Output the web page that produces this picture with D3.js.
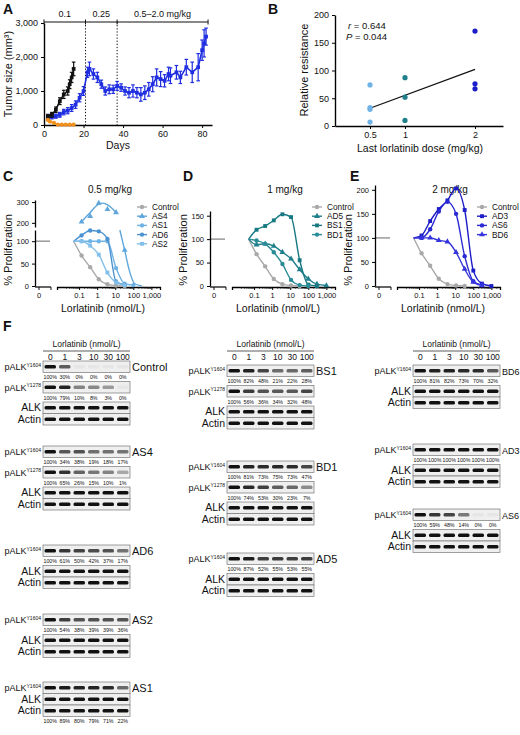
<!DOCTYPE html>
<html><head><meta charset="utf-8">
<script src="https://cdn.jsdelivr.net/npm/d3@7"></script>
<style>
body{margin:0;background:#fff}
text{font-family:"Liberation Sans Narrow","Liberation Sans",Arial,sans-serif;fill:#111}
</style></head>
<body><svg id="fig" width="520" height="735"></svg>
<script>
// ---- panel A: tumor growth ----
const blueDays = [2,4,6,8,10,12,14,16,18,20,22,23,25,27,29,31,33,35,37,39,41,43,45,47,49,51,53,55,57,59,61,63,64,67,69,72,75,78,80,81,82];
const blueMean = [230,240,260,300,380,420,500,600,800,1000,1550,1650,1500,1400,1200,1000,1050,1050,1150,1100,1000,950,1000,950,900,950,1050,1200,1400,1350,1300,1500,1450,1550,1400,1700,1550,1700,2200,2400,2600];
const blueErr  = [80,60,60,70,80,90,100,110,120,130,150,200,150,150,120,120,130,120,130,110,120,150,180,150,200,200,200,220,250,220,180,200,230,200,180,230,300,400,300,400,250];
const blackDays = [2,4,6,8,10,12,13,14,15];
const blackMean = [250,300,450,700,900,1000,1200,1400,1650];
const blackErr  = [60,70,80,100,120,120,130,150,200];
const orangeDays = [2,3,5,7,9,11,13,15];
const orangeMean = [150,100,60,10,10,10,10,10];
const doseBreaks = [21,37];
const doseLabels = ['0.1','0.25','0.5–2.0 mg/kg'];

// ---- panel B: relative resistance ----
const bDose = [0.5,0.5,0.5,0.5,1,1,1,2,2,2];
const bRes  = [74,33,30,7,87,52,10,171,76,67];
const bFit  = [[0.5,32],[2,102]];

// ---- panels C-E: dose response (conc nmol/L, % proliferation) ----
const ctlPts = [[0.137,68],[0.41,42],[1.23,15],[3.7,4],[11.1,1],[33.3,0]];
const cSeries = [
  {name:'AS4', sym:'triangle', color:'#5ea6dc', pts:[[0.137,205],[0.41,232],[1.23,295],[3.7,265],[11.1,250]], curve:[[0.137,205],[0.41,250],[1.23,290],[2.2,295],[4,285],[11.1,250]]},
  {name:'AS1', sym:'circle', color:'#6fb3e6', pts:[[0.137,100],[0.41,100],[1.23,100],[3.7,100],[11.1,40],[33.3,5],[100,2]]},
  {name:'AD6', sym:'circle', color:'#4a93d0', pts:[[0.137,113],[0.41,124],[1.23,122],[3.7,105],[11.1,10],[33.3,3]]},
  {name:'AS2', sym:'square', color:'#82bfea', pts:[[0.137,100],[0.41,90],[1.23,70],[3.7,30],[11.1,8],[33.3,2]]}
];
const as4Tail = [[18,125],[33.3,80],[60,35],[120,5],[300,0]];
const dSeries = [
  {name:'AD5', sym:'triangle', color:'#1f7f8a', pts:[[0.137,88],[0.41,90],[1.23,85],[3.7,72],[11.1,58],[33.3,35],[100,15],[300,4],[1000,1]]},
  {name:'BS1', sym:'square', color:'#167882', pts:[[0.137,120],[0.41,128],[1.23,140],[3.7,153],[11.1,147],[33.3,55],[100,3],[300,0]]},
  {name:'BD1', sym:'circle', color:'#2a8c96', pts:[[0.137,97],[0.41,90],[1.23,72],[3.7,47],[11.1,13],[33.3,2],[100,0]]}
];
const eSeries = [
  {name:'AD3', sym:'square', color:'#1c1cc8', pts:[[0.137,105],[0.41,135],[1.23,160],[3.7,178],[11.1,203],[33.3,158],[100,32],[300,5],[1000,0]]},
  {name:'AS6', sym:'circle', color:'#2a2ad4', pts:[[0.137,100],[0.41,118],[1.23,155],[3.7,175],[11.1,150],[33.3,62],[100,10],[300,2]]},
  {name:'BD6', sym:'triangle', color:'#3535dc', pts:[[0.137,100],[0.41,100],[1.23,95],[3.7,92],[11.1,70],[33.3,35],[100,8],[300,1]]}
];

// ---- panel F: western blots (% of lane 0) ----
const lanes = ['0','1','3','10','30','100'];
const ctl1604 = [100,30,0,0,0,0], ctl1278 = [100,79,10,8,3,0];
const as4_1604 = [100,34,38,19,18,17], as4_1278 = [100,65,26,15,10,1];
const ad6_1604 = [100,61,50,42,37,17];
const as2_1604 = [100,54,38,39,39,36];
const as1_1604 = [100,89,80,79,71,22];
const bs1_1604 = [100,82,48,21,22,28], bs1_1278 = [100,56,36,34,32,48];
const bd1_1604 = [100,81,73,75,73,47], bd1_1278 = [100,74,53,30,23,7];
const ad5_1604 = [100,87,52,55,53,55];
const bd6_1604 = [100,81,82,73,70,32];
const ad3_1604 = [100,100,100,100,100,100];
const as6_1604 = [100,59,48,14,0,0];
const fullBand = [100,100,100,100,100,100];

const svg = d3.select('#fig');
const fmt = d3.format(',');

function letter(t,x,y){ svg.append('text').attr('x',x).attr('y',y).attr('font-size',14).attr('font-weight','bold').style('font-family','Liberation Sans,Arial').text(t); }

// ===== A =====
{
  const x = d3.scaleLinear().domain([0,85]).range([44,212]);
  const y = d3.scaleLinear().domain([0,3000]).range([125,23]);
  const g = svg.append('g');
  letter('A',3,14);
  g.append('g').attr('transform','translate(0,125)').call(d3.axisBottom(x).tickValues([0,20,40,60,80]).tickSize(3).tickSizeOuter(0));
  g.append('g').attr('transform','translate(44,0)').call(d3.axisLeft(y).tickValues([0,1000,2000,3000]).tickFormat(fmt).tickSize(3).tickSizeOuter(0));
  g.selectAll('.domain').attr('stroke-width',1.4);
  g.selectAll('.tick text').attr('font-size',9);
  g.append('text').attr('x',118).attr('y',149).attr('text-anchor','middle').attr('font-size',10.5).text('Days');
  g.append('text').attr('transform','translate(12,74) rotate(-90)').attr('text-anchor','middle').attr('font-size',11).text('Tumor size (mm³)');
  doseBreaks.forEach(d=>g.append('line').attr('x1',x(d)).attr('x2',x(d)).attr('y1',22).attr('y2',125).attr('stroke','#111').attr('stroke-dasharray','1.3,1.8'));
  const marks = [0,...doseBreaks,83];
  g.append('line').attr('x1',x(0)).attr('x2',x(83)).attr('y1',22).attr('y2',22).attr('stroke','#111');
  marks.forEach(d=>g.append('line').attr('x1',x(d)).attr('x2',x(d)).attr('y1',19.5).attr('y2',24.5).attr('stroke','#111'));
  doseLabels.forEach((t,i)=>g.append('text').attr('x',(x(marks[i])+x(marks[i+1]))/2).attr('y',17).attr('text-anchor','middle').attr('font-size',9).text(t));
  function series(days,mean,err,color,sym){
    const pts = days.map((d,i)=>[d,mean[i],err?err[i]:0]);
    if(err) pts.forEach(p=>{
      g.append('line').attr('x1',x(p[0])).attr('x2',x(p[0])).attr('y1',y(p[1]-p[2])).attr('y2',y(p[1]+p[2])).attr('stroke',color).attr('stroke-width',1.2);
      [p[1]-p[2],p[1]+p[2]].forEach(v=>g.append('line').attr('x1',x(p[0])-1.8).attr('x2',x(p[0])+1.8).attr('y1',y(v)).attr('y2',y(v)).attr('stroke',color).attr('stroke-width',1.2));
    });
    g.append('path').datum(pts).attr('fill','none').attr('stroke',color).attr('stroke-width',1.6).attr('d',d3.line().x(p=>x(p[0])).y(p=>y(p[1])));
    g.selectAll(null).data(pts).join('path').attr('transform',p=>`translate(${x(p[0])},${y(p[1])})`).attr('d',d3.symbol(sym,14)).attr('fill',color);
  }
  series(blueDays,blueMean,blueErr,'#1f2ee0',d3.symbolSquare);
  series(blackDays,blackMean,blackErr,'#111',d3.symbolSquare);
  series(orangeDays,orangeMean,null,'#f0901e',d3.symbolCircle);
}

// ===== B =====
{
  const x = d3.scaleLinear().domain([0,2.4]).range([335,503]);
  const y = d3.scaleLinear().domain([0,200]).range([126,15]);
  const g = svg.append('g');
  letter('B',268,14);
  g.append('g').attr('transform','translate(0,126)').call(d3.axisBottom(x).tickValues([0.5,1,2]).tickFormat(d3.format('')).tickSize(3).tickSizeOuter(0));
  g.append('g').attr('transform','translate(335,0)').call(d3.axisLeft(y).tickValues([0,50,100,150,200]).tickSize(3).tickSizeOuter(0));
  g.selectAll('.domain').attr('stroke-width',1.4);
  g.selectAll('.tick text').attr('font-size',9);
  g.append('text').attr('x',420).attr('y',152).attr('text-anchor','middle').attr('font-size',10.5).text('Last lorlatinib dose (mg/kg)');
  g.append('text').attr('transform','translate(308,70) rotate(-90)').attr('text-anchor','middle').attr('font-size',11).text('Relative resistance');
  const t1 = g.append('text').attr('x',348).attr('y',29).attr('font-size',9.5);
  t1.append('tspan').attr('font-style','italic').text('r'); t1.append('tspan').text(' = 0.644');
  const t2 = g.append('text').attr('x',346).attr('y',40).attr('font-size',9.5);
  t2.append('tspan').attr('font-style','italic').text('P'); t2.append('tspan').text(' = 0.044');
  g.append('line').attr('x1',x(bFit[0][0])).attr('y1',y(bFit[0][1])).attr('x2',x(bFit[1][0])).attr('y2',y(bFit[1][1])).attr('stroke','#111').attr('stroke-width',1.2);
  const col = d3.scaleOrdinal().domain([0.5,1,2]).range(['#6fb3e6','#1f7f8a','#1c1cc8']);
  g.selectAll(null).data(bDose).join('circle').attr('cx',d=>x(d)).attr('cy',(d,i)=>y(bRes[i])).attr('r',2.6).attr('fill',d=>col(d));
}

// ===== C-E =====
const symOf = s => s==='circle'?d3.symbolCircle:s==='square'?d3.symbolSquare:d3.symbolTriangle;
function doseGroup(cfg){
  const ax = cfg.ax, g = svg.append('g');
  letter(cfg.letter,cfg.lx,181);
  g.append('text').attr('x',ax+75).attr('y',193).attr('text-anchor','middle').attr('font-size',10).text(cfg.title);
  const x = d3.scaleLog().domain([0.006,3000]).range([ax+22,ax+125]);
  const y = cfg.y;
  g.append('line').attr('x1',ax).attr('x2',ax+16).attr('y1',287).attr('y2',287).attr('stroke','#111').attr('stroke-width',1.3);
  [ax+4,ax+16].forEach(v=>g.append('line').attr('x1',v).attr('x2',v).attr('y1',287).attr('y2',290).attr('stroke','#111'));
  g.append('text').attr('x',ax+4).attr('y',298).attr('text-anchor','middle').attr('font-size',7.5).text('0');
  g.append('line').attr('x1',ax+1).attr('x2',ax+15).attr('y1',y(100)).attr('y2',y(100)).attr('stroke','#999').attr('stroke-width',1.5);
  const xa = g.append('g').attr('transform','translate(0,287)').call(d3.axisBottom(x).tickValues([0.1,1,10,100,1000]).tickFormat(fmt).tickSize(3).tickSizeOuter(3));
  xa.append('g').selectAll('line').data(d3.range(-2,4).flatMap(e=>d3.range(2,10).map(m=>m*10**e)).filter(v=>v>0.006&&v<3000)).join('line')
    .attr('x1',d=>x(d)).attr('x2',d=>x(d)).attr('y1',0).attr('y2',1.6).attr('stroke','#111');
  xa.select('.domain').attr('stroke-width',1.3);
  xa.selectAll('.tick text').attr('font-size',7.5);
  cfg.yAxes.forEach(a=>{
    const ya = g.append('g').attr('transform',`translate(${ax},0)`).call(d3.axisLeft(a.s).tickValues(a.ticks).tickSize(3).tickSizeOuter(0));
    ya.select('.domain').attr('stroke-width',1.3); ya.selectAll('.tick text').attr('font-size',7.5);
  });
  g.append('text').attr('transform',`translate(${ax-23},250) rotate(-90)`).attr('text-anchor','middle').attr('font-size',11).text('% Proliferation');
  g.append('text').attr('x',ax+68).attr('y',312).attr('text-anchor','middle').attr('font-size',10.5).text('Lorlatinib (nmol/L)');
  const line = d3.line().x(p=>x(p[0])).y(p=>y(p[1])).curve(d3.curveMonotoneX);
  const all = [{name:'Control',sym:'circle',color:'#a9a9a9',pts:ctlPts},...cfg.series];
  all.forEach(s=>{
    const c = s.curve || [[0.05,100],...s.pts];
    g.append('path').datum(c).attr('fill','none').attr('stroke',s.color).attr('stroke-width',1.4).attr('d',line);
    g.selectAll(null).data(s.pts).join('path').attr('transform',p=>`translate(${x(p[0])},${y(p[1])})`)
      .attr('d',d3.symbol(symOf(s.sym),15)).attr('fill',s.color);
  });
  if(cfg.extra) cfg.extra(g,line,x,y);
  const lg = g.append('g').attr('transform',`translate(${ax+107},207)`);
  all.forEach((s,i)=>{
    const r = lg.append('g').attr('transform',`translate(0,${i*9.2})`);
    r.append('line').attr('x1',-5).attr('x2',5).attr('stroke',s.color).attr('stroke-width',1.4);
    r.append('path').attr('d',d3.symbol(symOf(s.sym),15)).attr('fill',s.color);
    r.append('text').attr('x',10).attr('y',3).attr('font-size',8.3).text(s.name);
  });
}
{
  const lo = d3.scaleLinear().domain([0,125]).range([286,230]);
  const hi = d3.scaleLinear().domain([180,310]).range([227,200]);
  const yC = v => v<=150 ? lo(v) : hi(v);
  doseGroup({letter:'C',lx:3,ax:35,title:'0.5 mg/kg',series:cSeries,y:yC,
    yAxes:[{s:lo,ticks:[0,50,100]},{s:hi,ticks:[200,300]}],
    extra:(g,line,x,y)=>{
      g.append('path').datum(as4Tail).attr('fill','none').attr('stroke',cSeries[0].color).attr('stroke-width',1.4).attr('d',line);
      g.append('path').attr('transform',`translate(${x(33.3)},${y(80)})`).attr('d',d3.symbol(d3.symbolTriangle,15)).attr('fill',cSeries[0].color);
    }});
  const yD = d3.scaleLinear().domain([0,160]).range([286,211]);
  doseGroup({letter:'D',lx:183,ax:210,title:'1 mg/kg',series:dSeries,y:yD,yAxes:[{s:yD,ticks:[0,50,100,150]}]});
  const yE = d3.scaleLinear().domain([0,210]).range([286,185]);
  doseGroup({letter:'E',lx:350,ax:375,title:'2 mg/kg',series:eSeries,y:yE,yAxes:[{s:yE,ticks:[0,50,100,150,200]}]});
}

// ===== F =====
letter('F',3,331);
const blotCols = [
  {x:43, blocks:[
    {name:'Control', y:361, rows:[['Y1604',ctl1604,true],['Y1278',ctl1278,true],['ALK',fullBand],['Actin',fullBand]]},
    {name:'AS4', y:446, rows:[['Y1604',as4_1604,true],['Y1278',as4_1278,true],['ALK',fullBand],['Actin',fullBand]]},
    {name:'AD6', y:545, rows:[['Y1604',ad6_1604,true],['ALK',fullBand],['Actin',fullBand]]},
    {name:'AS2', y:614, rows:[['Y1604',as2_1604,true],['ALK',fullBand],['Actin',fullBand]]},
    {name:'AS1', y:682, rows:[['Y1604',as1_1604],['ALK',fullBand],['Actin',fullBand,true,as1_1604]]}]},
  {x:227, blocks:[
    {name:'BS1', y:365, rows:[['Y1604',bs1_1604,true],['Y1278',bs1_1278,true],['ALK',fullBand],['Actin',fullBand]]},
    {name:'BD1', y:461, rows:[['Y1604',bd1_1604,true],['Y1278',bd1_1278,true],['ALK',fullBand],['Actin',fullBand]]},
    {name:'AD5', y:553, rows:[['Y1604',ad5_1604,true],['ALK',fullBand],['Actin',fullBand]]}]},
  {x:413, nameSize:9, blocks:[
    {name:'BD6', y:365, rows:[['Y1604',bd6_1604,true],['ALK',fullBand],['Actin',fullBand]]},
    {name:'AD3', y:444, rows:[['Y1604',ad3_1604,true],['ALK',fullBand],['Actin',fullBand]]},
    {name:'AS6', y:509, rows:[['Y1604',as6_1604,true],['ALK',fullBand],['Actin',fullBand]]}]}
];
const bw = 87, bh = 11.5;
const lane = d3.scaleBand().domain(lanes).range([0,bw]);
blotCols.forEach(col=>{
  const g = svg.append('g').attr('transform',`translate(${col.x},0)`);
  g.append('text').attr('x',bw/2).attr('y',347).attr('text-anchor','middle').attr('font-size',8.5).text('Lorlatinib (nmol/L)');
  g.append('line').attr('x1',0).attr('x2',bw).attr('y1',351).attr('y2',351).attr('stroke','#333').attr('stroke-width',0.8);
  lanes.forEach(l=>g.append('text').attr('x',lane(l)+lane.bandwidth()/2).attr('y',360).attr('text-anchor','middle').attr('font-size',8.5).text(l));
  col.blocks.forEach(b=>{
    let y = b.y;
    b.rows.forEach((r,ri)=>{
      const [lab,vals,pct,pvals] = r;
      g.append('rect').attr('x',0).attr('y',y).attr('width',bw).attr('height',bh).attr('fill','#efefef').attr('stroke','#777').attr('stroke-width',0.7);
      vals.forEach((v,i)=>{
        const op = v<=0 ? 0.04 : 0.25+0.75*Math.sqrt(v/100);
        g.append('rect').attr('x',lane(lanes[i])+1.5).attr('y',y+bh/2-1.8).attr('width',lane.bandwidth()-3).attr('height',3.6).attr('rx',1.5).attr('fill','#111').attr('opacity',op);
      });
      const t = g.append('text').attr('x',-2).attr('y',y+bh/2+3.5).attr('text-anchor','end');
      if(lab.startsWith('Y')){ t.attr('font-size',9).text('pALK'); t.append('tspan').attr('font-size',5).attr('dy',-3.5).text(lab); }
      else t.attr('font-size',10.5).text(lab);
      if(ri===0) g.append('text').attr('x',bw+2).attr('y',y+bh/2+4).attr('font-size',col.nameSize||11).text(b.name);
      y += bh;
      if(pct){
        (pvals||vals).forEach((v,i)=>g.append('text').attr('x',lane(lanes[i])+lane.bandwidth()/2).attr('y',y+6.5).attr('text-anchor','middle').attr('font-size',5.3).text(v+'%'));
        y += 9;
      }
    });
  });
});
</script></body></html>
